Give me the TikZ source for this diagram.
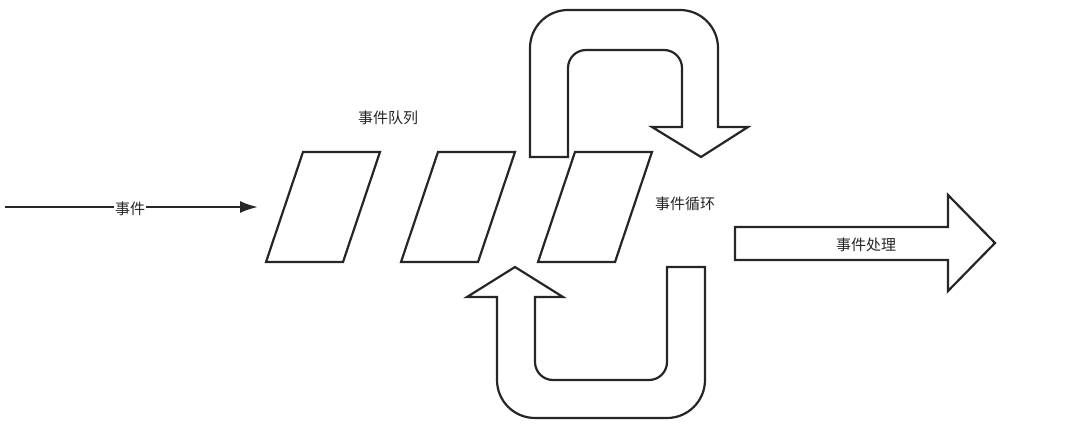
\documentclass[tikz,border=0pt]{standalone}
\usetikzlibrary{arrows.meta}
\usepackage{fontspec}
\newfontfamily\cjk{Noto Sans CJK SC}
\begin{document}
\begin{tikzpicture}[x=1pt,y=-1pt,
  shp/.style={draw=black!85,line width=2.2pt,fill=white,line join=miter},
  lbl/.style={font=\cjk\fontsize{15}{18}\selectfont,text=black!85}]
\useasboundingbox (0,0) rectangle (1069,436);
% top loop arrow
\draw[shp] (530,157) [rounded corners=38] -- (530,10) -- (718,10) [sharp corners] -- (718,127) -- (748,127) -- (701,157) -- (652,127) -- (682,127) [rounded corners=18] -- (682,50) -- (568,50) [sharp corners] -- (568,157) -- cycle;
% bottom loop arrow
\draw[shp] (705,267) [rounded corners=38] -- (705,418) -- (497,418) [sharp corners] -- (497,297) -- (467,297) -- (515,267) -- (563,297) -- (535,297) [rounded corners=18] -- (535,380) -- (667,380) [sharp corners] -- (667,267) -- cycle;
% queue slots
\draw[shp] (266,262) -- (303,152) -- (380,152) -- (343,262) -- cycle;
\draw[shp] (401,262) -- (438,152) -- (515,152) -- (478,262) -- cycle;
\draw[shp] (538,262) -- (575,152) -- (652,152) -- (615,262) -- cycle;
% big arrow
\draw[shp] (735,227) -- (948,227) -- (948,195) -- (995,243) -- (948,291) -- (948,260) -- (735,260) -- cycle;
% input arrow
\coordinate (s) at (5,207);
\coordinate (e) at (258,207);
\draw[line width=2.2pt,draw=black!85,-{Latex[length=18pt,width=12pt]}] (s) -- (e);
\node[lbl,fill=white,inner sep=1pt] (ev) at (130,209) {事件};
\node[lbl] (q) at (388,118) {事件队列};
\node[lbl] (loop) at (685,204) {事件循环};
\node[lbl] (proc) at (866,245) {事件处理};
\end{tikzpicture}
\end{document}
